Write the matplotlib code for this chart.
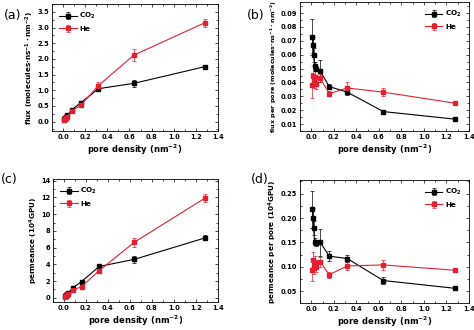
import matplotlib
matplotlib.use("Agg")
import matplotlib.pyplot as plt
from matplotlib.ticker import AutoMinorLocator

# pore density (nm^-2)
density = [0.01, 0.015, 0.02, 0.03, 0.04, 0.08, 0.16, 0.32, 0.64, 1.28]

# (a) flux
flux_co2 = [0.07, 0.10, 0.12, 0.16, 0.20, 0.38, 0.60, 1.05, 1.22, 1.75]
flux_co2_err = [0.03, 0.03, 0.03, 0.03, 0.03, 0.04, 0.05, 0.05, 0.12, 0.07]
flux_he = [0.04, 0.07, 0.08, 0.13, 0.16, 0.35, 0.52, 1.15, 2.12, 3.15]
flux_he_err = [0.02, 0.03, 0.03, 0.03, 0.03, 0.04, 0.05, 0.10, 0.18, 0.12]

# (b) flux per pore
fpp_co2 = [0.073, 0.067, 0.060, 0.052, 0.050, 0.048, 0.037, 0.033, 0.019, 0.0135]
fpp_co2_err = [0.013, 0.006, 0.005, 0.003, 0.002, 0.008, 0.002, 0.002, 0.0015, 0.0008]
fpp_he = [0.038, 0.045, 0.040, 0.044, 0.039, 0.043, 0.032, 0.036, 0.033, 0.025]
fpp_he_err = [0.009, 0.007, 0.004, 0.004, 0.004, 0.003, 0.002, 0.004, 0.003, 0.001]

# (c) permeance
perm_co2 = [0.22, 0.30, 0.36, 0.45, 0.60, 1.20, 1.95, 3.75, 4.60, 7.15]
perm_co2_err = [0.08, 0.08, 0.08, 0.08, 0.10, 0.15, 0.15, 0.20, 0.45, 0.30]
perm_he = [0.10, 0.17, 0.20, 0.33, 0.40, 0.90, 1.35, 3.25, 6.65, 11.9]
perm_he_err = [0.05, 0.08, 0.08, 0.08, 0.08, 0.10, 0.12, 0.30, 0.55, 0.50]

# (d) permeance per pore
ppp_co2 = [0.218, 0.200, 0.180, 0.152, 0.148, 0.150, 0.122, 0.117, 0.072, 0.056]
ppp_co2_err = [0.038, 0.020, 0.015, 0.008, 0.006, 0.027, 0.010, 0.008, 0.007, 0.003]
ppp_he = [0.094, 0.115, 0.098, 0.110, 0.100, 0.110, 0.084, 0.102, 0.104, 0.093]
ppp_he_err = [0.022, 0.015, 0.012, 0.012, 0.010, 0.010, 0.006, 0.008, 0.010, 0.004]

RED = "#e3202f"
XTICKS = [0.0, 0.2, 0.4, 0.6, 0.8, 1.0, 1.2, 1.4]

plt.rcParams["font.family"] = "DejaVu Sans"
plt.rcParams["font.weight"] = "bold"

fig = plt.figure(figsize=(4.74, 3.30), dpi=100)
W, H = 474, 330


def make_ax(l, t, r, b):
    return fig.add_axes([l / W, 1 - b / H, (r - l) / W, (b - t) / H])


panels = [
    ("(a)", (4, 15), make_ax(52, 4, 218, 131), flux_co2, flux_co2_err, flux_he, flux_he_err,
     (-0.3, 3.75), [0.0, 0.5, 1.0, 1.5, 2.0, 2.5, 3.0, 3.5], "%.1f",
     "flux (molecules$\\cdot$ns$^{-1}\\cdot$nm$^{-2}$)", "upper left", 5.2),
    ("(b)", (247, 15), make_ax(300, 2, 469, 131), fpp_co2, fpp_co2_err, fpp_he, fpp_he_err,
     (0.005, 0.098), [0.01, 0.02, 0.03, 0.04, 0.05, 0.06, 0.07, 0.08, 0.09], "%.2f",
     "flux per pore (molecules$\\cdot$ns$^{-1}\\cdot$nm$^{-2}$)", "upper right", 4.6),
    ("(c)", (1, 180), make_ax(53, 179, 218, 302), perm_co2, perm_co2_err, perm_he, perm_he_err,
     (-0.5, 14.2), [0, 2, 4, 6, 8, 10, 12, 14], "%d",
     "permeance (10$^4$GPU)", "upper left", 5.2),
    ("(d)", (251, 180), make_ax(300, 180, 469, 303), ppp_co2, ppp_co2_err, ppp_he, ppp_he_err,
     (0.026, 0.278), [0.05, 0.10, 0.15, 0.20, 0.25], "%.2f",
     "permeance per pore (10$^4$GPU)", "upper right", 5.2),
]

for letter, lpos, ax, co2, co2_err, he, he_err, ylim, yticks, fmt, ylabel, loc, ysize in panels:
    ax.errorbar(density, co2, yerr=co2_err, color="black", marker="s", ms=2.3,
                lw=0.8, elinewidth=0.5, capsize=1.3, capthick=0.5, label="CO$_2$")
    ax.errorbar(density, he, yerr=he_err, color=RED, marker="s", ms=2.3,
                lw=0.8, elinewidth=0.5, capsize=1.3, capthick=0.5, label="He")
    ax.set_xlim(-0.1, 1.4)
    ax.set_ylim(*ylim)
    ax.set_xticks(XTICKS)
    ax.set_xticklabels(["%.1f" % v for v in XTICKS])
    ax.set_yticks(yticks)
    ax.set_yticklabels([fmt % v for v in yticks])
    ax.xaxis.set_minor_locator(AutoMinorLocator(2))
    ax.yaxis.set_minor_locator(AutoMinorLocator(2))
    ax.tick_params(which="both", direction="in", top=True, right=True,
                   labelsize=4.8, width=0.5, pad=2)
    ax.tick_params(which="major", length=2.2)
    ax.tick_params(which="minor", length=1.2)
    for s in ax.spines.values():
        s.set_linewidth(0.6)
    ax.set_xlabel("pore density (nm$^{-2}$)", fontsize=6, fontweight="bold", labelpad=2)
    ax.set_ylabel(ylabel, fontsize=ysize, fontweight="bold", labelpad=1)
    ax.legend(loc=loc, frameon=False, prop={"size": 5.2, "weight": "bold"},
              handlelength=2.4, handletextpad=0.4, borderaxespad=0.6, labelspacing=0.6)
    fig.text(lpos[0] / W, 1 - lpos[1] / H, letter, fontsize=9, fontweight="normal",
             va="center", ha="left")

fig.savefig("out.png", dpi=100)
